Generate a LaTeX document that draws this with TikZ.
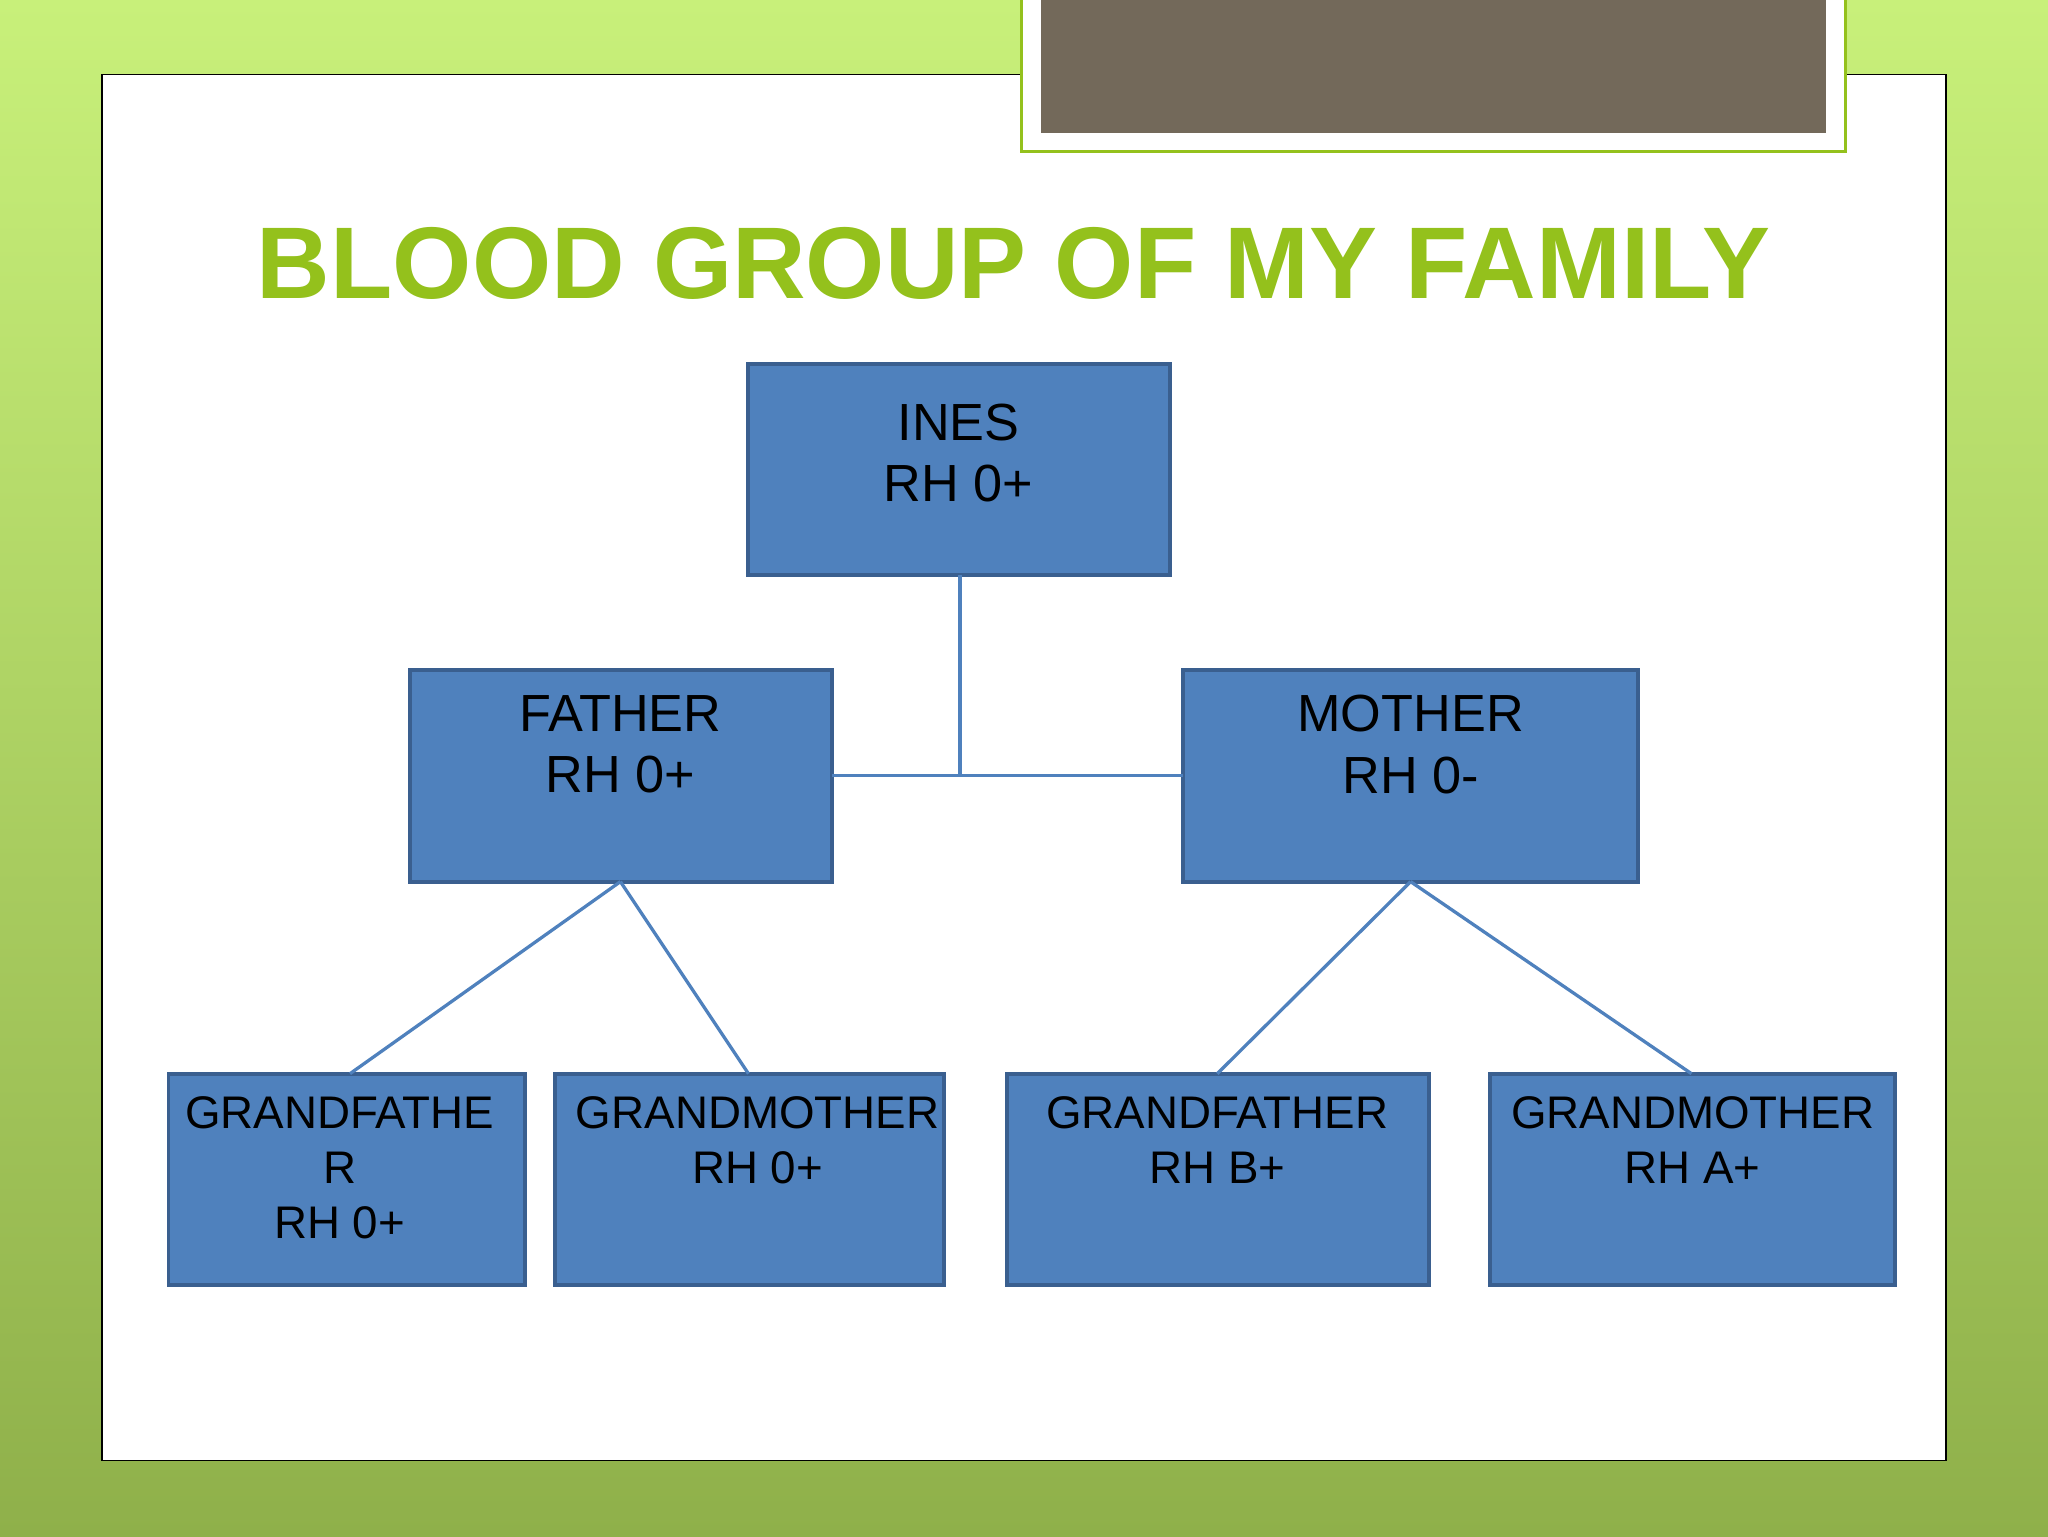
\documentclass[tikz,border=0pt]{standalone}
\usepackage{fontspec}
\setmainfont{Liberation Sans}
\definecolor{bx}{HTML}{4F81BD}
\definecolor{bxd}{HTML}{3A5F8F}
\definecolor{tg}{HTML}{94C11C}
\definecolor{brn}{HTML}{73695A}
\definecolor{bgt}{HTML}{C8F07A}
\definecolor{bgb}{HTML}{8FB04A}
\begin{document}
\begin{tikzpicture}[x=1pt,y=-1pt,
 box/.style={draw=bxd,fill=bx,line width=3pt},
 lbl/.style={align=center,text=black,font=\fontsize{40}{47}\selectfont},
 slbl/.style={align=center,text=black,font=\fontsize{35}{42}\selectfont},
 con/.style={draw=bx,line width=2.5pt}]
\useasboundingbox (0,0) rectangle (1568,1176);
\shade[top color=bgt, bottom color=bgb] (0,0) rectangle (1568,1176);
\fill[white,draw=black,line width=1pt] (78,57) rectangle (1490,1118);
\filldraw[fill=white,draw=tg,line width=2pt] (782,-5) rectangle (1413,116);
\fill[brn] (797,-5) rectangle (1398,102);
\node[text=tg,font=\bfseries\fontsize{78}{86}\selectfont] (t) at (776,202) {BLOOD GROUP OF MY FAMILY};
\draw[box] (573,279) rectangle (896,440); \node[lbl] (ines) at (734,347) {INES\\RH 0+};
\draw[box] (314,513) rectangle (637,675); \node[lbl] (fa) at (475,570) {FATHER\\RH 0+};
\draw[box] (906,513) rectangle (1254,675); \node[lbl] (mo) at (1080,570) {MOTHER\\RH 0-};
\draw[box] (129,822) rectangle (402,984); \node[slbl] (g1) at (260,894) {GRANDFATHE\\R\\RH 0+};
\draw[box] (425,822) rectangle (723,984); \node[slbl] (g2) at (580,873) {GRANDMOTHER\\RH 0+};
\draw[box] (771,822) rectangle (1094,984); \node[slbl] (g3) at (932,873) {GRANDFATHER\\RH B+};
\draw[box] (1141,822) rectangle (1451,984); \node[slbl] (g4) at (1296,873) {GRANDMOTHER\\RH A+};
\coordinate (ib) at (735,440); \coordinate (mid) at (735,594);
\coordinate (fr) at (637,594); \coordinate (ml) at (906,594);
\coordinate (fb) at (475,675); \coordinate (mb) at (1080,675);
\coordinate (g1t) at (268,822); \coordinate (g2t) at (573,822);
\coordinate (g3t) at (932,822); \coordinate (g4t) at (1295,822);
\draw[con] (ib) -- (mid); \draw[con] (fr) -- (ml);
\draw[con] (fb) -- (g1t); \draw[con] (fb) -- (g2t);
\draw[con] (mb) -- (g3t); \draw[con] (mb) -- (g4t);
\end{tikzpicture}
\end{document}
